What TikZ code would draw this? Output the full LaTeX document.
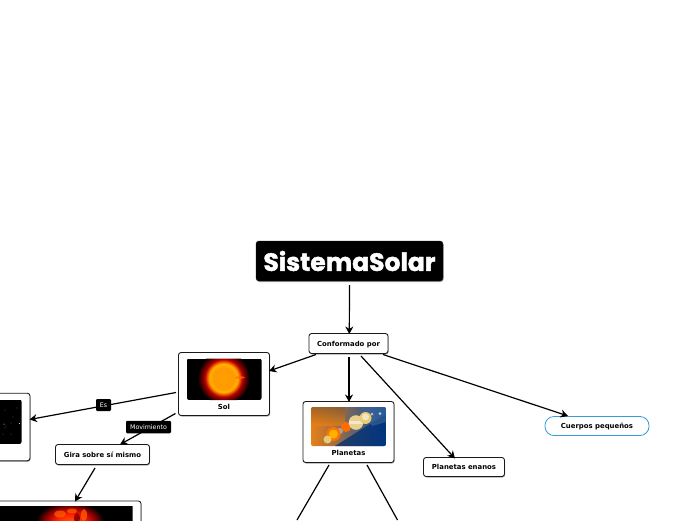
\documentclass[tikz,border=0pt]{standalone}
\usepackage{fontspec}
\setmainfont{DejaVu Sans}
\newfontfamily\titlefont[FakeBold=1.6]{Poppins}
\usetikzlibrary{arrows.meta,shadows,calc}
\definecolor{framecol}{HTML}{1A1A1A}
\definecolor{bluecol}{HTML}{3A9BDC}
\pgfdeclareradialshading{sunglow}{\pgfpoint{0bp}{0bp}}{color(0bp)=(orange!75!yellow); color(10bp)=(orange!80!yellow); color(13.5bp)=(orange!60!yellow); color(15bp)=(orange!90!red); color(18bp)=(red!70!black); color(25bp)=(black); color(50bp)=(black)}
\pgfdeclareradialshading{flameglow}{\pgfpoint{0bp}{0bp}}{color(0bp)=(orange!70!red); color(10bp)=(red!75!orange); color(18bp)=(red!60!black); color(25bp)=(black); color(50bp)=(black)}
\newcommand{\boxtext}[1]{\raisebox{-2.8pt}[0pt][0pt]{#1}}
\tikzset{
 x=1pt,y=-1pt,
 shd/.style={drop shadow={shadow xshift=0.6pt,shadow yshift=-1pt,opacity=.35,fill=black}},
 box/.style={draw=framecol,line width=.9pt,rounded corners=2.6pt,fill=white,shd,inner sep=0pt,font=\bfseries\fontsize{6.9}{7}\selectfont,text=black,align=center},
 pill/.style={draw=bluecol,line width=.8pt,rounded corners=9pt,fill=white,inner sep=0pt,font=\bfseries\fontsize{6.9}{7}\selectfont,text=black},
 captext/.style={font=\bfseries\fontsize{6.9}{7}\selectfont,text=black,inner sep=0pt},
 lnk/.style={draw=black,line width=1.2pt,-{Stealth[length=7.5pt,width=8pt]}},
 lnkplain/.style={draw=black,line width=1.2pt},
 tag/.style={fill=black,rounded corners=1.2pt,text=white,inner sep=0pt,font=\fontsize{6.3}{7}\selectfont},
 sized/.style 2 args={minimum width=#1pt,minimum height=#2pt},
}
\begin{document}
\begin{tikzpicture}
\useasboundingbox (0,0) rectangle (696,520);
\begin{scope}
\clip (0,0) rectangle (696,520);
\node[fill=black,draw=framecol,rounded corners=3pt,sized={187}{40},shd,inner sep=0pt] (title) at (349.5,261) {\titlefont\bfseries\fontsize{25}{26}\selectfont\color{white}SistemaSolar};
\node[box,sized={79}{20}] (conf) at (348.5,343.5) {\boxtext{Conformado por}};
\node[box,sized={91}{63}] (sol) at (224,384) {};
\node[box,sized={91}{61}] (plan) at (348.5,432) {};
\node[box,sized={81}{19}] (enanos) at (464,467) {\boxtext{Planetas enanos}};
\node[pill,sized={104}{19}] (cuerpos) at (597,426) {\boxtext{Cuerpos pequeños}};
\node[box,sized={94}{20}] (gira) at (102.5,454.5) {\boxtext{Gira sobre sí mismo}};
\node[box,sized={90}{67.5}] (esp) at (-15,427) {};
\node[box,sized={166}{60}] (fuego) at (58,531) {};
% Sun picture
\begin{scope}
\clip[rounded corners=2pt] (187,358.5) rectangle (261.5,400);
\fill[black] (187,358.5) rectangle (261.5,400);
\shade[shading=sunglow] (223.5,378) circle (26);
\fill[orange!80!red,opacity=.7] (240,377.5) ellipse (5 and 1.3);
\end{scope}
\node[captext] (soltxt) at (224,406.5) {Sol};
% Planets picture
\begin{scope}
\clip[rounded corners=2pt] (311,407) rectangle (386,446);
\shade[left color=orange!65!brown,right color=cyan!45!blue!65!black] (311,407) rectangle (386,446);
\shade[top color=brown!70!black,bottom color=orange!70!brown,opacity=.7] (311,407) rectangle (345,425);
\fill[blue!60!cyan!45!black,opacity=.75] (335,446) -- (386,414) -- (386,446) -- cycle;
\fill[cyan!50!blue!70!black,opacity=.6] (360,407) -- (386,407) -- (386,422) -- (372,426) -- cycle;
\fill[gray!70] (340,431) circle (3);
\fill[orange!90!red] (333.5,434) circle (7);
\fill[orange!60!yellow] (333.5,434) circle (4.5);
\fill[yellow!40!brown!70!white] (327.5,439.5) circle (4);
\fill[orange!85!red] (346,427) circle (5);
\fill[yellow!30!brown!55!white] (356,422.5) circle (7.3);
\fill[yellow!25!brown!25!white] (349,420.5) rectangle (363,424);
\fill[yellow!40!brown!70!white] (365.5,418) circle (6);
\fill[yellow!30!brown!30!white] (365.5,417) circle (3.5);
\fill[gray!50!white] (372,414) circle (1.5);
\fill[gray!40!white] (380,413.5) circle (1.5);
\end{scope}
\node[captext] (plantxt) at (348.5,452.5) {Planetas};
% Starry picture
\begin{scope}
\clip[rounded corners=2pt] (-20,399.5) rectangle (21.5,444);
\fill[black] (-20,399.5) rectangle (21.5,444);
\foreach \a/\b in {5/410,13/417,6/426,11/423,11/434,5/428,17/408,3/434}{\fill[gray!60] (\a,\b) circle (.35);}
\foreach \a/\b in {19.3/423.5,4/424}{\fill[white] (\a,\b) circle (.5);}
\end{scope}
% Flame picture
\begin{scope}
\clip (-20,506) rectangle (132.5,530);
\fill[black] (-20,506) rectangle (132.5,530);
\shade[shading=flameglow] (70,522) ellipse (34 and 20);
\fill[orange!75!red,opacity=.7] (60,514) ellipse (6 and 3.5);
\fill[orange!75!red,opacity=.7] (72,511) ellipse (5 and 2.5);
\fill[orange!70!red,opacity=.8] (84,515) ellipse (3 and 6);
\fill[red!60!black] (77,518) ellipse (3 and 5);
\end{scope}
% Connectors
\coordinate (lp1) at (329,465);
\coordinate (lp2) at (297,520);
\coordinate (lp3) at (367,465);
\coordinate (lp4) at (397.5,520);
\draw[lnk] (349.5,285) -- (349.3,334);
\draw[lnk] (316,354.5) -- (269,371);
\draw[lnk] (349,357) -- (349,402);
\draw[lnk] (361,356) -- (455,458.5);
\draw[lnk] (383,354.5) -- (568,416);
\draw[lnk] (176,392.5) -- (29.5,419.5);
\node[tag,sized={15}{12}] (es) at (103.5,405) {Es};
\draw[lnk] (175.5,413.5) -- (120,444.5);
\node[tag,sized={45}{12.5}] (mov) at (148.5,427) {Movimiento};
\draw[lnk] (95,468) -- (75,501.5);
\draw[lnkplain] (lp1) -- (lp2);
\draw[lnkplain] (lp3) -- (lp4);
\end{scope}
\end{tikzpicture}
\end{document}
